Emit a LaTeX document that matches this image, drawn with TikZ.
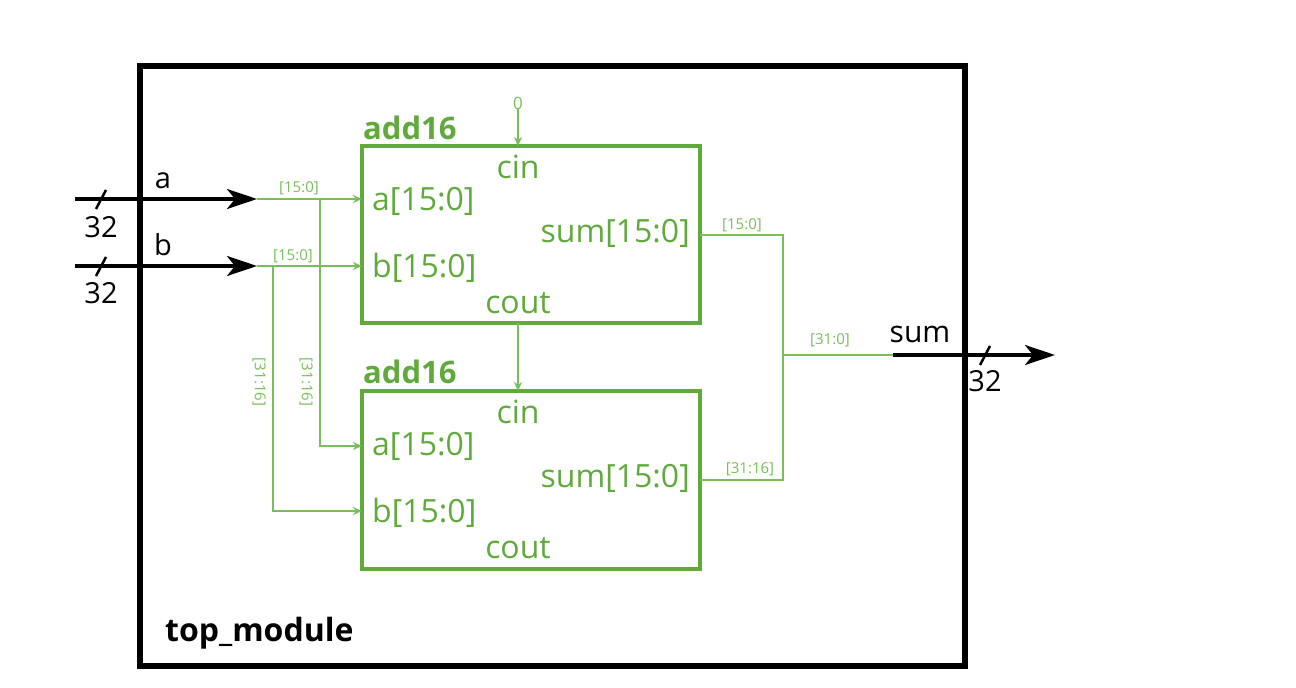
\documentclass[tikz,border=0pt]{standalone}
\usepackage{fontspec}
\setmainfont{Open Sans}
\usetikzlibrary{arrows.meta}
\definecolor{grn}{RGB}{96,170,60}
\definecolor{lgrn}{RGB}{120,190,90}
\begin{document}
\begin{tikzpicture}[x=1pt,y=-1pt,
  big/.style={font=\fontsize{32}{36}\selectfont,inner sep=0pt},
  bigb/.style={font=\fontsize{31}{36}\selectfont\bfseries,inner sep=0pt},
  small/.style={font=\fontsize{15}{17}\selectfont,inner sep=0pt,text=lgrn},
  blk/.style={draw=grn,line width=3.5pt},
  wire/.style={draw=lgrn,line width=2pt},
  warr/.style={wire,-{Stealth[length=9pt,width=8pt]}},
  barr/.style={line width=3.5pt,-{Stealth[length=30pt,width=20pt,inset=8pt]}}]
\useasboundingbox (0,0) rectangle (1296,688);
\draw[line width=6pt] (140,66) rectangle (965,666);
\node[bigb,anchor=west,font=\fontsize{32}{36}\selectfont\bfseries] (top) at (165,633) {top\_module};
% blocks
\draw[blk] (362,146) rectangle (700,323);
\draw[blk] (362,391) rectangle (700,569);
\node[bigb,anchor=west,text=grn] (t1) at (363,128) {add16};
\node[bigb,anchor=west,text=grn] (t2) at (363,372) {add16};
\foreach \o/\n in {0/1,245/2}{
  \node[big,text=grn] (cin\n) at (518,167+\o) {cin};
  \node[big,text=grn,anchor=west] (a\n) at (372,201+\o) {a[15:0]};
  \node[big,text=grn,anchor=west] (b\n) at (372,268+\o) {b[15:0]};
  \node[big,text=grn,anchor=east] (s\n) at (690,233+\o) {sum[15:0]};
  \node[big,text=grn] (co\n) at (518,303+\o) {cout};
}
% carry in
\node[small,font=\fontsize{17}{19}\selectfont] (zero) at (518,103) {0};
\coordinate (c1t) at (518,146);
\draw[warr] (zero.south) -- (c1t);
\coordinate (c1b) at (518,323);
\coordinate (c2t) at (518,391);
\draw[warr] (c1b) -- (c2t);
% inputs
\coordinate (ain) at (75,199); \coordinate (aa) at (257,199);
\coordinate (bin) at (75,266); \coordinate (ba) at (257,266);
\draw[barr] (ain) -- (aa);
\draw[barr] (bin) -- (ba);
\draw[line width=2.5pt] (96,209) -- (106,190);
\draw[line width=2.5pt] (96,276) -- (106,257);
\node[big,font=\fontsize{29}{32}\selectfont] (n32a) at (101,227) {32};
\node[big,font=\fontsize{29}{32}\selectfont] (n32b) at (101,293) {32};
\node[big,font=\fontsize{29}{32}\selectfont] (la) at (163,181) {a};
\node[big,font=\fontsize{29}{32}\selectfont] (lb) at (163,245) {b};
\coordinate (a1p) at (362,199); \coordinate (b1p) at (362,266);
\coordinate (a2p) at (362,446); \coordinate (b2p) at (362,511);
\draw[warr] (aa) -- (a1p);
\draw[warr] (ba) -- (b1p);
\draw[warr] (320,199) -- (320,446) -- (a2p);
\draw[warr] (273,266) -- (273,511) -- (b2p);
\node[small] at (299,188) {[15:0]};
\node[small] at (293,256) {[15:0]};
\node[small,rotate=-90] at (306,382) {[31:16]};
\node[small,rotate=-90] at (259,382) {[31:16]};
% output
\coordinate (s1p) at (700,235); \coordinate (s2p) at (700,480);
\coordinate (mid) at (893,355); \coordinate (out) at (1055,355);
\draw[wire] (s1p) -- (783,235) -- (783,480) -- (s2p);
\draw[wire] (783,355) -- (mid);
\draw[barr] (mid) -- (out);
\draw[line width=2.5pt] (980,365) -- (990,346);
\node[small] at (742,225) {[15:0]};
\node[small] at (750,469) {[31:16]};
\node[small] at (830,340) {[31:0]};
\node[big,font=\fontsize{30}{32}\selectfont] (lsum) at (920,334) {sum};
\node[big,font=\fontsize{29}{32}\selectfont] (n32c) at (985,381) {32};
\end{tikzpicture}
\end{document}
